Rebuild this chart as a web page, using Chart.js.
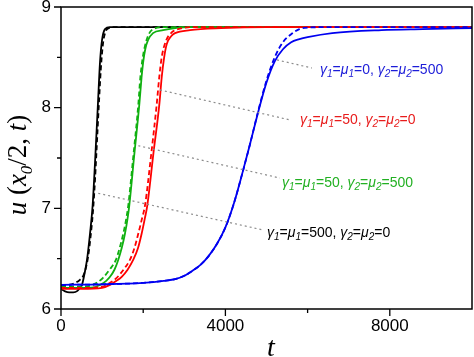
<!DOCTYPE html>
<html><head><meta charset="utf-8">
<script src="https://cdn.jsdelivr.net/npm/chart.js@4.4.1/dist/chart.umd.min.js"></script>
<style>html,body{margin:0;padding:0;background:#fff}#wrap{width:474px;height:357px}</style>
</head><body><div id="wrap"><canvas id="c" width="474" height="357"></canvas></div>
<script>
// ---- data (t, u) ----
const blackSolidT = [0, 100, 200, 300, 400, 462, 511, 572, 633, 706, 770, 827, 900, 949, 998, 1071, 1190, 2000, 6000, 10000];
const blackSolidU = [6.20, 6.175, 6.165, 6.165, 6.18, 6.21, 6.24, 6.35, 6.49, 6.75, 7.03, 7.45, 8.05, 8.45, 8.67, 8.78, 8.80, 8.80, 8.80, 8.80];
const blackDashT = [0, 200, 350, 460, 540, 600, 660, 720, 780, 830, 880, 930, 980, 1030, 1090, 1160, 1250, 2000, 10000];
const blackDashU = [6.23, 6.24, 6.26, 6.29, 6.33, 6.40, 6.52, 6.72, 6.98, 7.30, 7.70, 8.10, 8.45, 8.66, 8.76, 8.79, 8.80, 8.80, 8.80];
const greenSolidT = [0, 400, 800, 949, 1100, 1192, 1300, 1394, 1480, 1557, 1620, 1662, 1780, 1905, 1960, 2002, 2050, 2117, 2238, 2482, 3139, 4000, 10000];
const greenSolidU = [6.21, 6.21, 6.215, 6.24, 6.28, 6.32, 6.39, 6.49, 6.61, 6.75, 6.90, 7.03, 7.52, 8.03, 8.30, 8.46, 8.58, 8.67, 8.74, 8.77, 8.80, 8.80, 8.80];
const greenDashT = [0, 400, 700, 869, 1022, 1180, 1338, 1430, 1516, 1580, 1637, 1760, 1881, 1930, 1990, 2080, 2207, 2500, 4000, 10000];
const greenDashU = [6.22, 6.22, 6.23, 6.26, 6.31, 6.39, 6.49, 6.61, 6.75, 6.88, 7.03, 7.52, 8.03, 8.30, 8.50, 8.67, 8.77, 8.80, 8.80, 8.80];
const redSolidT = [0, 500, 1000, 1192, 1350, 1477, 1620, 1759, 1870, 1963, 2040, 2100, 2250, 2392, 2450, 2510, 2572, 2680, 2774, 3139, 3900, 5000, 10000];
const redSolidU = [6.20, 6.20, 6.21, 6.24, 6.28, 6.32, 6.39, 6.49, 6.60, 6.75, 6.90, 7.03, 7.55, 8.03, 8.30, 8.50, 8.63, 8.71, 8.74, 8.77, 8.79, 8.80, 8.80];
const redDashT = [0, 500, 1000, 1150, 1355, 1520, 1679, 1790, 1881, 1960, 2044, 2190, 2328, 2390, 2450, 2550, 2700, 2847, 3200, 5000, 10000];
const redDashU = [6.21, 6.21, 6.22, 6.25, 6.31, 6.39, 6.49, 6.61, 6.75, 6.88, 7.03, 7.52, 8.03, 8.30, 8.50, 8.66, 8.75, 8.78, 8.80, 8.80, 8.80];
const blueSolidT = [0, 1000, 2000, 2500, 2800, 3000, 3200, 3400, 3600, 3800, 4000, 4200, 4400, 4600, 4800, 5000, 5200, 5400, 5600, 5800, 6000, 6600, 7800, 8800, 10000];
const blueSolidU = [6.24, 6.245, 6.26, 6.28, 6.30, 6.33, 6.38, 6.44, 6.53, 6.65, 6.81, 7.04, 7.33, 7.64, 7.96, 8.25, 8.46, 8.58, 8.65, 8.68, 8.70, 8.74, 8.77, 8.78, 8.79];
const blueDashT = [0, 1000, 2000, 2500, 2800, 3000, 3200, 3400, 3600, 3800, 4000, 4200, 4400, 4600, 4800, 5000, 5200, 5400, 5600, 5800, 6000, 6500, 10000];
const blueDashU = [6.24, 6.245, 6.26, 6.28, 6.30, 6.33, 6.38, 6.44, 6.53, 6.65, 6.81, 7.04, 7.33, 7.64, 7.97, 8.27, 8.50, 8.65, 8.73, 8.78, 8.795, 8.80, 8.80];

const xTickValues = [0, 4000, 8000];
const xMinorValues = [2000, 6000];
const yTickValues = [6, 7, 8, 9];
const yMinorValues = [6.5, 7.5, 8.5];

// annotation labels: [gamma1/mu1 value, gamma2/mu2 value]
const labelParams = [["0", "500"], ["50", "0"], ["50", "500"], ["500", "0"]];
const labelColors = ["#1c1cd8", "#e81c1c", "#22b022", "#000000"];
// anchor points in data coordinates: line start (t,u), line end (t,u), text start (t,u)
const lineStartT = [5255, 2409, 1881, 908];
const lineStartU = [8.474, 8.176, 7.622, 7.149];
const lineEndT = [6107, 5572, 5328, 4915];
const lineEndU = [8.394, 7.878, 7.301, 6.785];
const textT = [6302, 5815, 5377, 5012];
const textU = [8.374, 7.878, 7.252, 6.755];

function zip(T, U) { return T.map((t, i) => ({x: t, y: U[i]})); }
function ds(T, U, color, dashed) {
  return {data: zip(T, U), borderColor: color, borderWidth: 1.8, pointRadius: 0,
    borderDash: dashed ? [5, 3] : [], cubicInterpolationMode: 'monotone', fill: false};
}
const BLACK = '#000000', GREEN = '#10b010', RED = '#ff0000', BLUE = '#0000f0';

const framePlugin = {
  id: 'frame',
  afterDraw(chart) {
    const ctx = chart.ctx, a = chart.chartArea;
    const xs = chart.scales.x, ys = chart.scales.y;
    ctx.save();
    // annotation dotted lines and labels
    ctx.strokeStyle = '#8c8c8c'; ctx.lineWidth = 1.2; ctx.setLineDash([2, 3]);
    for (let i = 0; i < labelParams.length; i++) {
      ctx.beginPath();
      ctx.moveTo(xs.getPixelForValue(lineStartT[i]), ys.getPixelForValue(lineStartU[i]));
      ctx.lineTo(xs.getPixelForValue(lineEndT[i]), ys.getPixelForValue(lineEndU[i]));
      ctx.stroke();
    }
    ctx.setLineDash([]);
    ctx.textBaseline = 'middle';
    for (let i = 0; i < labelParams.length; i++) {
      let x = xs.getPixelForValue(textT[i]);
      const y = ys.getPixelForValue(textU[i]);
      ctx.fillStyle = labelColors[i];
      const segs = [
        ['\u03b3', 'italic 14px "Liberation Sans"', 0], ['1', 'italic 10px "Liberation Sans"', 4],
        ['=', '14px "Liberation Sans"', 0], ['\u03bc', 'italic 14px "Liberation Sans"', 0],
        ['1', 'italic 10px "Liberation Sans"', 4], ['=' + labelParams[i][0] + ', ', '14px "Liberation Sans"', 0],
        ['\u03b3', 'italic 14px "Liberation Sans"', 0], ['2', 'italic 10px "Liberation Sans"', 4],
        ['=', '14px "Liberation Sans"', 0], ['\u03bc', 'italic 14px "Liberation Sans"', 0],
        ['2', 'italic 10px "Liberation Sans"', 4], ['=' + labelParams[i][1], '14px "Liberation Sans"', 0]
      ];
      for (const s of segs) {
        ctx.font = s[1];
        ctx.fillText(s[0], x, y + s[2]);
        x += ctx.measureText(s[0]).width;
      }
    }
    // frame
    ctx.strokeStyle = '#000'; ctx.lineWidth = 1.5;
    ctx.strokeRect(a.left, a.top, a.right - a.left, a.bottom - a.top);
    // ticks
    ctx.lineWidth = 1.3;
    ctx.beginPath();
    for (const v of yTickValues) { const p = ys.getPixelForValue(v); ctx.moveTo(a.left - 7, p); ctx.lineTo(a.left, p); }
    for (const v of yMinorValues) { const p = ys.getPixelForValue(v); ctx.moveTo(a.left - 4, p); ctx.lineTo(a.left, p); }
    for (const v of xTickValues) { const p = xs.getPixelForValue(v); ctx.moveTo(p, a.bottom); ctx.lineTo(p, a.bottom + 7); }
    for (const v of xMinorValues) { const p = xs.getPixelForValue(v); ctx.moveTo(p, a.bottom); ctx.lineTo(p, a.bottom + 4); }
    ctx.stroke();
    // axis titles
    ctx.fillStyle = '#000';
    ctx.textBaseline = 'alphabetic';
    ctx.font = 'italic 28px "Liberation Serif"';
    ctx.textAlign = 'center';
    ctx.fillText('t', 271, 356);
    ctx.textAlign = 'left';
    const tsegs = [
      ['u', 'italic 27px "Liberation Serif"', 0], [' (', '27px "Liberation Serif"', 0],
      ['x', 'italic 27px "Liberation Serif"', 0], ['0', 'italic 17px "Liberation Serif"', 6],
      ['/2, ', '27px "Liberation Serif"', 0], ['t', 'italic 27px "Liberation Serif"', 0],
      [')', '27px "Liberation Serif"', 0]
    ];
    let tw = 0;
    for (const s of tsegs) { ctx.font = s[1]; tw += ctx.measureText(s[0]).width; }
    ctx.translate(26, 165);
    ctx.rotate(-Math.PI / 2);
    let x = -tw / 2;
    for (const s of tsegs) { ctx.font = s[1]; ctx.fillText(s[0], x, s[2]); x += ctx.measureText(s[0]).width; }
    ctx.restore();
  }
};

new Chart(document.getElementById('c'), {
  type: 'line',
  data: {datasets: [
    ds(blueSolidT, blueSolidU, BLUE, false), ds(blueDashT, blueDashU, BLUE, true),
    ds(redSolidT, redSolidU, RED, false), ds(redDashT, redDashU, RED, true),
    ds(greenSolidT, greenSolidU, GREEN, false), ds(greenDashT, greenDashU, GREEN, true),
    ds(blackSolidT, blackSolidU, BLACK, false), ds(blackDashT, blackDashU, BLACK, true)
  ]},
  options: {
    responsive: false, animation: false, devicePixelRatio: 1,
    layout: {padding: {top: 7, right: 2, left: 0, bottom: 0}},
    plugins: {legend: {display: false}, tooltip: {enabled: false}},
    scales: {
      x: {type: 'linear', min: 0, max: 10000,
        afterBuildTicks: s => { s.ticks = xTickValues.map(v => ({value: v})); },
        afterFit: s => { s.height = 48; s.paddingLeft = 0; s.paddingRight = 0; },
        grid: {display: false, drawTicks: false}, border: {display: false},
        ticks: {color: '#000', padding: 7, maxRotation: 0, callback: v => String(v),
          font: {family: '"Liberation Sans"', size: 17}}},
      y: {type: 'linear', min: 6, max: 9,
        afterBuildTicks: s => { s.ticks = yTickValues.map(v => ({value: v})); },
        afterFit: s => { s.width = 61; s.paddingTop = 0; s.paddingBottom = 0; },
        grid: {display: false, drawTicks: false}, border: {display: false},
        ticks: {color: '#000', padding: 10, callback: v => String(v),
          font: {family: '"Liberation Sans"', size: 17}}}
    }
  },
  plugins: [framePlugin]
});
</script></body></html>
